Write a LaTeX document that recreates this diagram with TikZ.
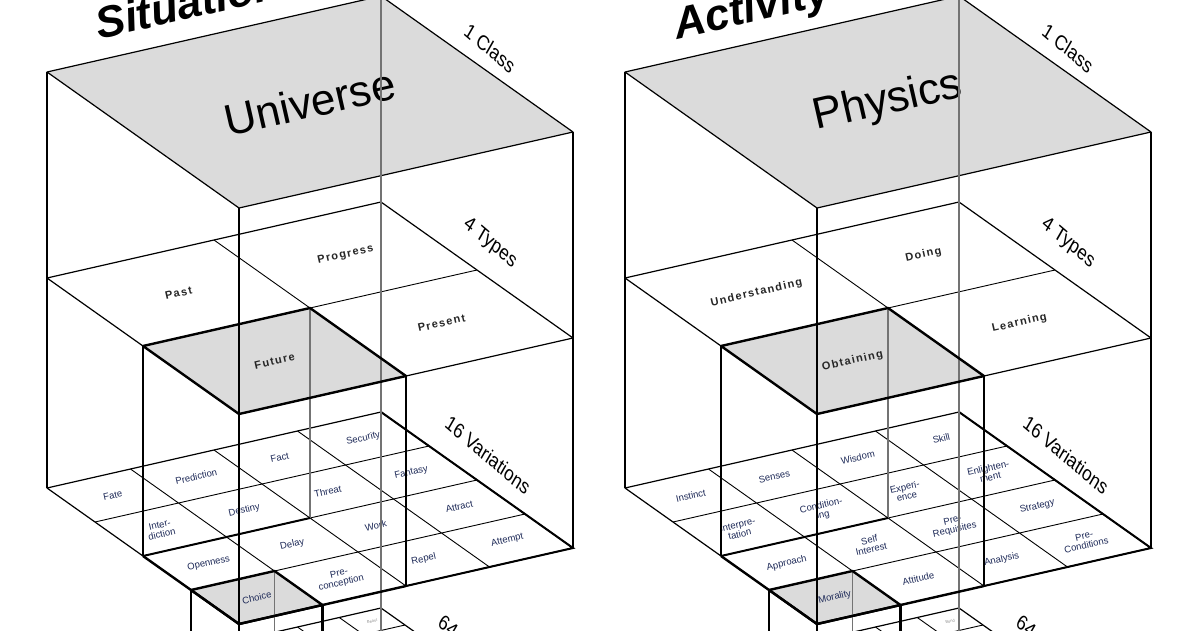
\documentclass[tikz,border=0pt]{standalone}
\usepackage{fontspec}
\setmainfont{Liberation Sans}
\newfontfamily\spacedfont[LetterSpace=12]{Liberation Sans}
\begin{document}
\begin{tikzpicture}[x=1pt,y=-1pt,
  plane/.style={draw=black,line width=1.2pt,line join=round},
  grid/.style={draw=black,line width=0.9pt},
  thickbox/.style={draw=black,line width=2.4pt,line join=round},
  vline/.style={draw=black,line width=1.2pt},
  backline/.style={draw=black!55,line width=1.3pt},
  lvl/.style={font=\fontsize{21}{21}\selectfont,xscale=0.82,rotate=-35},
  typelab/.style={font=\spacedfont\bfseries\fontsize{11}{11}\selectfont,rotate=12.8,text=black!85},
  varlab/.style={font=\fontsize{9.5}{9.5}\selectfont,rotate=12.8,align=center,text={rgb,1:red,0.12;green,0.17;blue,0.35},inner sep=0pt}]
\useasboundingbox (0,0) rectangle (1200,630);
\clip (0,0) rectangle (1200,630);
\fill[white] (0,0) rectangle (1200,630);
\newcommand\Pt[3]{({47+192*(#1)+334*(#2)},{72+(#3)+136*(#1)-76*(#2)})}
\newcommand\Qd[5]{\Pt{#1}{#3}{#5} -- \Pt{#2}{#3}{#5} -- \Pt{#2}{#4}{#5} -- \Pt{#1}{#4}{#5} -- cycle}
\newcommand\drawstruct[8]{%
  \node[anchor=base west,rotate=12.8,font=\fontsize{44}{44}\selectfont\bfseries\itshape] (title) at (96,40) {#1};
  % top plane
  \path[plane,fill=black!14] \Qd{0}{1}{0}{1}{0};
  \node[rotate=12.8,font=\fontsize{44}{44}\selectfont] (top) at \Pt{0.5}{0.5}{0} {#2};
  % 4 types plane
  \path[plane,fill=white] \Qd{0}{1}{0}{1}{206};
  \path[fill=black!14] \Qd{0.5}{1}{0}{0.5}{206};
  \draw[grid] \Pt{0.5}{0}{206} -- \Pt{0.5}{1}{206} \Pt{0}{0.5}{206} -- \Pt{1}{0.5}{206};
  \node[typelab] (t00) at \Pt{0.25}{0.25}{206} {#3};
  \node[typelab] (t01) at \Pt{0.25}{0.75}{206} {#4};
  \node[typelab] (t11) at \Pt{0.75}{0.75}{206} {#5};
  \node[typelab] (t10) at \Pt{0.75}{0.25}{206} {#6};
  % 16 plane
  \path[plane,fill=white] \Qd{0}{1}{0}{1}{416};
  \path[fill=black!14] \Qd{0.75}{1}{0}{0.25}{416};
  \foreach \k in {0.25,0.5,0.75}{\draw[grid] \Pt{\k}{0}{416} -- \Pt{\k}{1}{416} \Pt{0}{\k}{416} -- \Pt{1}{\k}{416};}
  \draw[line width=2pt] \Pt{1}{0.5}{416} -- \Pt{1}{1}{416} -- \Pt{0}{1}{416};
  \foreach \u/\v/\t in {#7}{\node[varlab] at \Pt{\u*0.25+0.125}{\v*0.25+0.125}{416} {\t};}
  % 64 plane
  \path[plane,fill=white] \Qd{0}{1}{0}{1}{612};
  \foreach \k in {1,...,7}{\draw[grid] \Pt{\k/8}{0}{612} -- \Pt{\k/8}{1}{612} \Pt{0}{\k/8}{612} -- \Pt{1}{\k/8}{612};}
  \node[font=\fontsize{4}{4}\selectfont,text=black!45,rotate=12.8] at \Pt{0.0625}{0.9375}{612} {#8};
  % verticals
  \draw[vline] \Pt{0}{0}{0} -- \Pt{0}{0}{416};
  \draw[vline] \Pt{1}{1}{0} -- \Pt{1}{1}{416};
  \draw[vline] \Pt{1}{0}{0} -- ++(0,500);
  \draw[backline] \Pt{0}{1}{-30} -- ++(0,700);
  % Future box
  \draw[backline] \Pt{0.5}{0.5}{206} -- \Pt{0.5}{0.5}{416};
  \draw[thickbox] \Qd{0.5}{1}{0}{0.5}{206};
  \draw[thickbox] \Pt{0.5}{0}{206} -- \Pt{0.5}{0}{416} \Pt{1}{0.5}{206} -- \Pt{1}{0.5}{416} \Pt{1}{0}{206} -- \Pt{1}{0}{416};
  \draw[thickbox] \Pt{0.5}{0}{416} -- \Pt{1}{0}{416} -- \Pt{1}{0.5}{416};
  \draw[line width=2pt] \Pt{0.5}{0}{416} -- \Pt{0.5}{0.5}{416};
  % Choice box
  \draw[backline] \Pt{0.75}{0.25}{416} -- \Pt{0.75}{0.25}{612};
  \draw[thickbox] \Qd{0.75}{1}{0}{0.25}{416};
  \draw[thickbox] \Pt{0.75}{0}{416} -- \Pt{0.75}{0}{612} \Pt{1}{0.25}{416} -- \Pt{1}{0.25}{612} \Pt{1}{0}{416} -- \Pt{1}{0}{612};
  \draw[thickbox] \Pt{0.75}{0}{612} -- \Pt{0.75}{0.25}{612} -- \Pt{1}{0.25}{612};
  % level labels
  \node[lvl] (l1) at (490,48) {1 Class};
  \node[lvl] (l4) at (490,243) {4 Types};
  \node[lvl] (l16) at (488,455) {16 Variations};
  \node[lvl,anchor=west] (l64) at (438,618) {64};
}
\drawstruct{Situation}{Universe}{Past}{Progress}{Present}{Future}{0/0/Fate,0/1/Prediction,0/2/Fact,0/3/Security,1/0/{Inter-\\diction},1/1/Destiny,1/2/Threat,1/3/Fantasy,2/0/Openness,2/1/Delay,2/2/Work,2/3/Attract,3/0/Choice,3/1/{Pre-\\conception},3/2/Repel,3/3/Attempt}{Beast}
\begin{scope}[xshift=578pt]
\drawstruct{Activity}{Physics}{Understanding}{Doing}{Learning}{Obtaining}{0/0/Instinct,0/1/Senses,0/2/Wisdom,0/3/Skill,1/0/{Interpre-\\tation},1/1/{Condition-\\ing},1/2/{Experi-\\ence},1/3/{Enlighten-\\ment},2/0/Approach,2/1/{Self\\Interest},2/2/{Pre-\\Requisites},2/3/Strategy,3/0/Morality,3/1/Attitude,3/2/Analysis,3/3/{Pre-\\Conditions}}{Bond}
\end{scope}
\end{tikzpicture}
\end{document}
